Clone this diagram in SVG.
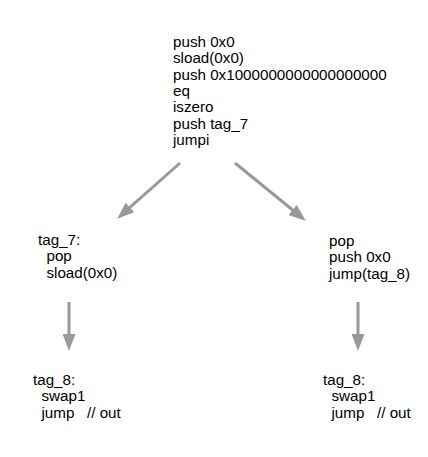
<svg xmlns="http://www.w3.org/2000/svg" width="428" height="457" viewBox="0 0 428 457">
<style>
text{font-family:"Liberation Sans",Arial,Helvetica,sans-serif;font-size:15.2px;fill:#000;white-space:pre}
.c line{stroke:#999;stroke-width:3;fill:none}
</style>
<defs>
<marker id="ah" markerUnits="userSpaceOnUse" markerWidth="17" markerHeight="13" refX="8" refY="6.5" orient="auto">
<path d="M0,0 L17,6.5 L0,13 z" fill="#999"/>
</marker>
</defs>
<rect width="428" height="457" fill="#fff"/>
<g class="c" id="connectors">
<line x1="180" y1="163" x2="124" y2="212.7" marker-end="url(#ah)"/>
<line x1="235" y1="163" x2="298.8" y2="215" marker-end="url(#ah)"/>
<line x1="69" y1="302" x2="69" y2="342" marker-end="url(#ah)"/>
<line x1="358" y1="302" x2="358" y2="342" marker-end="url(#ah)"/>
</g>
<g id="n_entry">
<text x="173" y="47">push 0x0</text>
<text x="173" y="63.3">sload(0x0)</text>
<text x="173" y="79.6">push 0x1000000000000000000</text>
<text x="173" y="95.9">eq</text>
<text x="173" y="112.2">iszero</text>
<text x="173" y="128.5">push tag_7</text>
<text x="173" y="144.8">jumpi</text>
</g>
<g id="n_tag7">
<text x="38" y="245">tag_7:</text>
<text xml:space="preserve" x="38" y="261.3">  pop</text>
<text xml:space="preserve" x="38" y="277.6">  sload(0x0)</text>
</g>
<g id="n_fall">
<text x="329" y="246">pop</text>
<text x="329" y="262.3">push 0x0</text>
<text x="329" y="278.6">jump(tag_8)</text>
</g>
<g id="n_tag8_left">
<text x="33" y="385">tag_8:</text>
<text xml:space="preserve" x="33" y="401.3">  swap1</text>
<text xml:space="preserve" x="33" y="417.6">  jump   // out</text>
</g>
<g id="n_tag8_right">
<text x="323" y="385">tag_8:</text>
<text xml:space="preserve" x="323" y="401.3">  swap1</text>
<text xml:space="preserve" x="323" y="417.6">  jump   // out</text>
</g>
</svg>
